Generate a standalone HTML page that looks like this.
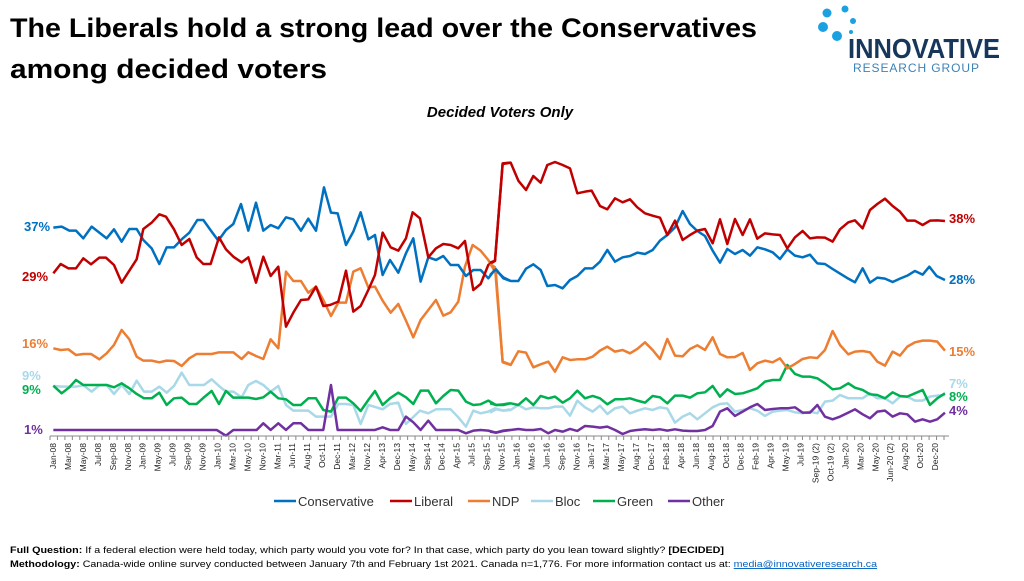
<!DOCTYPE html>
<html><head><meta charset="utf-8"><style>
body{margin:0;background:#fff;width:1024px;height:576px;overflow:hidden;font-family:"Liberation Sans",sans-serif;}
</style></head><body>
<svg width="1024" height="576" xmlns="http://www.w3.org/2000/svg" font-family="Liberation Sans, sans-serif">
<text x="10" y="37" font-size="27" font-weight="bold" fill="#000" textLength="747" lengthAdjust="spacingAndGlyphs">The Liberals hold a strong lead over the Conservatives</text>
<text x="10" y="78" font-size="27" font-weight="bold" fill="#000" textLength="317" lengthAdjust="spacingAndGlyphs">among decided voters</text>
<text x="500" y="117" font-size="15" font-weight="bold" font-style="italic" text-anchor="middle">Decided Voters Only</text>
<g fill="#1ba1e2"><circle cx="827" cy="13" r="4.5"/><circle cx="845" cy="9" r="3.5"/><circle cx="823" cy="27" r="5"/><circle cx="853" cy="21" r="3"/><circle cx="837" cy="36" r="5"/><circle cx="851" cy="32" r="2"/></g>
<text x="848" y="58" font-size="28" font-weight="bold" fill="#16365c" textLength="152" lengthAdjust="spacingAndGlyphs">INNOVATIVE</text>
<text x="853" y="72" font-size="12" fill="#3b82b8" textLength="126">RESEARCH GROUP</text>
<g fill="none" stroke-width="2.5" stroke-linejoin="round">
<g transform="translate(40,150) scale(0.3333)">
<polyline vector-effect="non-scaling-stroke" stroke="#a9d8e8" points="40,708 65,710 88,710 108,710 130,706 155,725 178,706 200,705 222,732 245,705 268,732 290,692 312,725 335,725 358,710 380,728 402,708 425,668 448,705 470,705 492,705 515,688 537,708 558,725 580,725 605,742 625,705 648,693 670,705 692,725 715,708 738,765 760,782 783,782 805,782 828,800 850,800 873,800 895,762 918,762 940,765 962,822 985,765 1028,778 1050,762 1075,758 1098,822 1140,782 1165,790 1188,778 1210,778 1232,778 1255,802 1278,830 1300,782 1322,790 1345,785 1365,775 1390,782 1410,778"/>
<polyline vector-effect="non-scaling-stroke" stroke="#00b050" points="40,707 65,730 88,712 108,690 130,705 155,705 178,705 200,705 222,712 245,700 268,715 290,732 312,745 335,745 358,728 380,765 402,745 425,743 448,762 470,762 492,742 515,723 537,762 558,723 580,743 605,743 625,743 648,747 670,742 692,725 715,745 738,748 760,765 783,765 805,745 828,745 850,780 873,785 895,743 918,743 940,760 962,783 985,750 1005,723 1028,765 1050,745 1075,728 1098,742 1120,762 1142,722 1165,722 1188,760 1210,738 1232,720 1255,722 1278,755 1300,765 1322,763 1345,752 1368,765 1390,763 1410,760"/>
<polyline vector-effect="non-scaling-stroke" stroke="#7030a0" points="40,840 530,840 558,857 580,840 650,840 670,820 692,840 715,820 738,840 760,820 783,820 805,840 850,840 873,705 893,840 1005,840 1028,832 1050,840 1075,840 1098,800 1120,817 1142,840 1165,812 1188,840 1255,840 1278,850 1300,842 1322,840 1345,842 1368,848 1390,842 1410,840"/>
<polyline vector-effect="non-scaling-stroke" stroke="#ed7d31" points="40,595 62,600 85,598 108,615 130,612 153,612 178,628 200,610 222,585 245,540 268,568 290,620 310,632 335,632 358,637 380,632 402,633 425,648 448,625 470,612 492,612 515,612 537,607 558,607 580,607 605,627 625,607 648,618 670,627 692,568 715,595 738,365 760,393 783,393 805,428 828,410 850,450 873,498 895,458 918,458 940,365 962,355 985,412 1005,410 1028,452 1052,488 1075,462 1098,512 1120,562 1142,510 1165,480 1188,450 1210,497 1232,487 1255,455 1275,350 1298,285 1322,302 1345,330 1368,370 1388,635 1410,643"/>
<polyline vector-effect="non-scaling-stroke" stroke="#0070c0" points="40,233 65,230 88,242 108,242 130,265 155,230 178,248 200,265 222,238 245,275 268,237 290,237 310,270 335,295 358,342 380,292 402,292 425,268 448,248 472,210 490,210 515,245 535,272 558,240 580,222 603,162 625,242 648,158 670,242 692,225 715,235 738,202 760,208 783,242 805,206 828,242 852,112 873,188 893,190 918,285 940,245 962,187 985,268 1005,255 1028,375 1050,330 1075,368 1098,310 1120,265 1142,395 1165,322 1188,330 1210,318 1232,345 1255,345 1278,378 1300,360 1322,360 1345,385 1365,358 1390,382 1410,392"/>
<polyline vector-effect="non-scaling-stroke" stroke="#c00000" points="40,370 62,342 85,355 108,355 130,325 153,343 178,323 198,323 222,345 245,398 268,362 290,328 310,237 335,218 358,193 378,200 402,238 425,285 448,267 470,322 490,342 512,342 537,262 558,298 580,320 605,337 625,322 648,398 670,320 692,378 715,350 738,530 760,488 783,450 805,448 828,410 850,468 870,465 895,455 918,362 940,485 962,468 985,420 1005,375 1028,248 1052,292 1075,302 1098,265 1118,187 1140,205 1165,322 1188,295 1210,282 1232,285 1255,295 1275,273 1300,420 1322,402 1345,345 1365,333 1388,40 1410,38"/>
</g>
<g transform="translate(490,150) scale(0.3333)">
<polyline vector-effect="non-scaling-stroke" stroke="#a9d8e8" points="0,788 18,778 40,782 62,780 85,765 108,778 130,772 152,775 175,775 195,770 218,770 240,797 262,752 285,772 308,785 330,767 352,792 375,775 398,770 420,790 442,782 465,775 488,780 510,772 532,776 555,818 578,800 600,790 622,808 645,790 668,772 690,762 712,760 735,785 758,780 780,775 802,782 825,798 848,785 870,782 892,780 915,787 938,790 960,785 982,790 1005,755 1028,752 1050,735 1075,745 1095,745 1118,745 1140,730 1162,745 1185,745 1208,760 1230,740 1252,740 1275,752 1298,752 1320,740 1342,737 1365,735"/>
<polyline vector-effect="non-scaling-stroke" stroke="#00b050" points="0,760 18,765 40,765 62,760 85,765 108,745 130,765 152,738 175,745 195,740 218,758 240,745 262,722 285,745 308,738 330,745 352,763 375,748 398,748 420,745 442,752 465,758 488,738 510,742 532,760 555,737 578,737 600,743 622,730 645,727 668,708 690,740 712,718 735,732 758,730 780,723 802,715 825,695 848,690 870,690 892,645 915,672 938,680 960,680 982,685 1005,700 1028,718 1050,715 1075,700 1095,713 1118,720 1140,733 1162,735 1185,745 1208,727 1230,738 1252,740 1275,730 1298,720 1320,765 1342,745 1365,730"/>
<polyline vector-effect="non-scaling-stroke" stroke="#7030a0" points="0,845 18,848 40,843 62,840 85,837 108,840 130,840 152,837 175,850 195,840 218,845 240,837 262,843 285,828 308,830 330,833 352,830 375,840 398,852 420,843 442,840 465,838 488,840 510,838 532,842 555,838 578,842 600,843 622,843 645,840 668,828 690,785 712,775 735,798 758,785 780,772 802,762 825,780 848,777 870,775 892,775 915,772 938,788 960,788 982,765 1005,800 1028,808 1050,800 1075,788 1095,778 1118,793 1140,805 1162,785 1185,782 1208,800 1230,790 1252,793 1275,815 1298,808 1320,815 1342,808 1365,788"/>
<polyline vector-effect="non-scaling-stroke" stroke="#ed7d31" points="0,342 15,352 38,637 62,645 85,604 108,608 130,652 152,643 175,635 195,665 218,622 240,630 262,628 285,628 308,620 330,602 352,590 375,605 398,600 420,610 442,597 465,577 488,600 510,627 532,567 555,617 578,619 600,597 622,586 645,600 668,562 690,612 712,622 735,621 758,609 780,660 802,640 825,632 848,637 870,625 892,655 915,642 938,627 960,622 982,624 1005,600 1028,543 1050,585 1075,613 1095,605 1118,603 1140,607 1162,635 1185,647 1208,605 1230,617 1252,590 1275,577 1298,572 1320,572 1342,575 1365,602"/>
<polyline vector-effect="non-scaling-stroke" stroke="#0070c0" points="0,375 18,358 40,385 62,393 85,393 108,356 130,343 152,360 172,408 195,405 218,415 240,390 262,378 285,355 308,355 330,335 352,300 375,335 398,322 420,318 442,308 465,312 488,300 510,272 532,255 555,232 578,183 600,222 622,243 645,258 668,302 690,338 712,297 735,312 758,300 780,317 802,292 825,298 848,307 870,327 892,298 915,317 938,322 960,314 982,340 1005,342 1028,357 1052,372 1075,386 1095,397 1118,355 1140,398 1162,383 1185,386 1208,396 1230,386 1252,377 1275,363 1298,374 1318,350 1340,378 1365,390"/>
<polyline vector-effect="non-scaling-stroke" stroke="#c00000" points="0,338 15,332 38,42 62,38 85,92 108,120 130,78 152,98 172,45 195,36 218,45 240,55 262,130 285,125 305,122 330,168 352,178 375,145 398,157 420,148 442,172 465,190 488,197 510,203 532,255 555,212 578,270 600,255 622,242 645,237 668,280 690,208 712,282 735,207 758,255 780,208 802,266 825,250 848,253 870,255 892,295 915,262 938,243 960,265 982,262 1005,263 1028,275 1050,238 1075,217 1095,211 1118,235 1140,180 1162,162 1185,146 1208,168 1230,185 1252,212 1275,212 1298,225 1320,212 1342,211 1365,213"/>
</g>
</g>
<line x1="50" y1="436" x2="949" y2="436" stroke="#888" stroke-width="1"/>
<g id="ticks" stroke="#888" stroke-width="1"></g>
<g id="xl" font-size="8.5" fill="#222"></g>
<g font-size="13" font-weight="bold">
<text x="24" y="231" fill="#0070c0">37%</text>
<text x="22" y="281" fill="#c00000">29%</text>
<text x="22" y="348" fill="#ed7d31">16%</text>
<text x="22" y="380" fill="#a9d8e8">9%</text>
<text x="22" y="394" fill="#00b050">9%</text>
<text x="24" y="434" fill="#7030a0">1%</text>
<text x="949" y="223" fill="#c00000">38%</text>
<text x="949" y="284" fill="#0070c0">28%</text>
<text x="949" y="356" fill="#ed7d31">15%</text>
<text x="949" y="388" fill="#a9d8e8">7%</text>
<text x="949" y="401" fill="#00b050">8%</text>
<text x="949" y="415" fill="#7030a0">4%</text>
</g>
<g font-size="13" fill="#333" stroke-width="2.5">
<line x1="274" y1="501" x2="296" y2="501" stroke="#0070c0"/><text x="298" y="506">Conservative</text>
<line x1="390" y1="501" x2="412" y2="501" stroke="#c00000"/><text x="414" y="506">Liberal</text>
<line x1="468" y1="501" x2="490" y2="501" stroke="#ed7d31"/><text x="492" y="506">NDP</text>
<line x1="531" y1="501" x2="553" y2="501" stroke="#a9d8e8"/><text x="555" y="506">Bloc</text>
<line x1="593" y1="501" x2="615" y2="501" stroke="#00b050"/><text x="617" y="506">Green</text>
<line x1="668" y1="501" x2="690" y2="501" stroke="#7030a0"/><text x="692" y="506">Other</text>
</g>
<text x="10" y="553" font-size="9.5" textLength="714" lengthAdjust="spacingAndGlyphs"><tspan font-weight="bold">Full Question:</tspan> If a federal election were held today, which party would you vote for? In that case, which party do you lean toward slightly? <tspan font-weight="bold">[DECIDED]</tspan></text>
<text x="10" y="567" font-size="9.5" textLength="867" lengthAdjust="spacingAndGlyphs"><tspan font-weight="bold">Methodology:</tspan> Canada-wide online survey conducted between January 7th and February 1st 2021.  Canada n=1,776.  For more information contact us at: <tspan fill="#0563c1" text-decoration="underline">media@innovativeresearch.ca</tspan></text>
</svg>
<script>
var ns="http://www.w3.org/2000/svg";
var t=document.getElementById("ticks");
for(var i=0;i<=120;i++){var x=50+i*7.45;var l=document.createElementNS(ns,"line");l.setAttribute("x1",x);l.setAttribute("x2",x);l.setAttribute("y1",436);l.setAttribute("y2",440);t.appendChild(l);}
var labs="Jan-08,Mar-08,May-08,Jul-08,Sep-08,Nov-08,Jan-09,May-09,Jul-09,Sep-09,Nov-09,Jan-10,Mar-10,May-10,Nov-10,Mar-11,Jun-11,Aug-11,Oct-11,Dec-11,Mar-12,Nov-12,Apr-13,Dec-13,May-14,Sep-14,Dec-14,Apr-15,Jul-15,Sep-15,Nov-15,Jan-16,Mar-16,Jun-16,Sep-16,Nov-16,Jan-17,Mar-17,May-17,Aug-17,Dec-17,Feb-18,Apr-18,Jun-18,Aug-18,Oct-18,Dec-18,Feb-19,Apr-19,May-19,Jul-19,Sep-19 (2),Oct-19 (2),Jan-20,Mar-20,May-20,Jun-20 (2),Aug-20,Oct-20,Dec-20".split(",");
var g=document.getElementById("xl");
for(var j=0;j<labs.length;j++){var x=56+j*14.95;var e=document.createElementNS(ns,"text");e.setAttribute("transform","translate("+x+",443) rotate(-90)");e.setAttribute("text-anchor","end");e.textContent=labs[j];g.appendChild(e);}
</script>
</body></html>
